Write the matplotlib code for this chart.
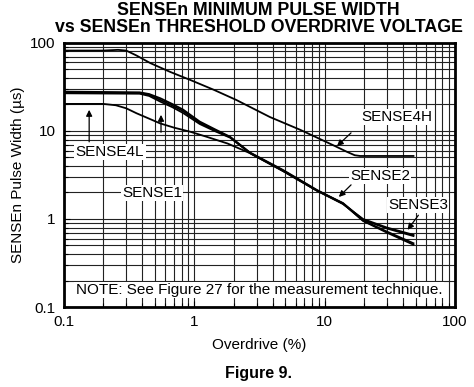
import matplotlib
matplotlib.use("Agg")
import matplotlib.pyplot as plt
from matplotlib.ticker import LogLocator, NullFormatter, FixedLocator, FixedFormatter

plt.rcParams['font.family'] = ['Liberation Sans', 'DejaVu Sans']

# data (overdrive %, pulse width us)
x_4h = [0.1, 0.2, 0.26, 0.3, 0.36, 0.46, 0.65, 0.93, 1.4, 2.1, 3.8, 6.5, 11.6, 14.8, 17, 18.7, 30, 48]
y_4h = [82, 82, 83.5, 82, 72, 59, 47, 38, 29.5, 22.5, 14.4, 10.3, 6.9, 5.8, 5.3, 5.2, 5.2, 5.2]

x_grp = [0.1, 0.38, 0.45, 0.55, 0.68, 0.82, 1.1, 1.45, 1.88, 2.67, 4.8, 8.7, 13.8, 19.7, 30, 48]
y_s1 = [28, 27.5, 26.3, 23.5, 20.2, 17.5, 12.8, 10.4, 8.6, 5.7, 3.6, 2.14, 1.5, 0.95, 0.7, 0.51]
y_s2 = [26.8, 26.5, 25.0, 21.5, 18.6, 16, 12, 9.9, 8.4, 5.6, 3.5, 2.1, 1.48, 1.0, 0.8, 0.66]
y_s3 = [27.5, 27, 25.8, 22.5, 19.4, 16.8, 12.4, 10.1, 8.5, 5.65, 3.55, 2.12, 1.52, 0.98, 0.78, 0.64]

x_4l = [0.1, 0.2, 0.25, 0.3, 0.36, 0.45, 0.546, 0.7, 0.93, 1.24, 1.8, 2.67, 4.8, 8.7, 13.8, 19.7, 30, 48]
y_4l = [20.3, 20.3, 19.6, 18.1, 15.9, 13.8, 12.2, 10.9, 9.8, 8.6, 7.2, 5.6, 3.5, 2.1, 1.5, 0.96, 0.72, 0.53]

xticks = [0.1, 1, 10, 100]
xtick_labels = ['0.1', '1', '10', '100']
yticks = [0.1, 1, 10, 100]
ytick_labels = ['0.1', '1', '10', '100']

fig = plt.figure(figsize=(4.74, 3.87), dpi=100)
ax = fig.add_axes([0.135, 0.2067, 0.825, 0.6823])

for yy in (y_s1, y_s2, y_s3):
    ax.plot(x_grp, yy, color='black', linewidth=1.3, zorder=3)
ax.plot(x_4l, y_4l, color='black', linewidth=1.3, zorder=3)
ax.plot(x_4h, y_4h, color='black', linewidth=1.3, zorder=3)

ax.set_xscale('log')
ax.set_yscale('log')
ax.set_xlim(0.1, 100)
ax.set_ylim(0.1, 100)

ax.xaxis.set_major_locator(FixedLocator(xticks))
ax.xaxis.set_major_formatter(FixedFormatter(xtick_labels))
ax.yaxis.set_major_locator(FixedLocator(yticks))
ax.yaxis.set_major_formatter(FixedFormatter(ytick_labels))
ax.xaxis.set_minor_locator(LogLocator(base=10, subs=range(2, 10)))
ax.yaxis.set_minor_locator(LogLocator(base=10, subs=range(2, 10)))
ax.xaxis.set_minor_formatter(NullFormatter())
ax.yaxis.set_minor_formatter(NullFormatter())
ax.grid(True, which='both', color='#222222', linewidth=0.8, zorder=1)
ax.tick_params(which='both', direction='in', length=3, width=0.8, labelsize=11, pad=6)
ax.tick_params(which='major', length=4)
for sp in ax.spines.values():
    sp.set_linewidth(2)

ax.set_xlabel('Overdrive (%)', fontsize=11, labelpad=6)
ax.set_ylabel('SENSEn Pulse Width (\u00b5s)', fontsize=11, labelpad=4)

box = dict(facecolor='white', edgecolor='none', pad=1)
tkw = dict(fontsize=11, ha='center', va='center', bbox=box, zorder=5)
ax.text(36, 14.4, 'SENSE4H', **tkw)
ax.text(0.225, 5.77, 'SENSE4L', **tkw)
ax.text(0.473, 1.97, 'SENSE1', **tkw)
ax.text(26.6, 3.08, 'SENSE2', **tkw)
ax.text(52, 1.44, 'SENSE3', **tkw)
ax.text(3.13, 0.156, 'NOTE: See Figure 27 for the measurement technique.',
        fontsize=11, ha='center', va='center', bbox=box, zorder=5)

akw = dict(arrowstyle='-|>', color='black', lw=0.9, mutation_scale=9)
ax.annotate('', xy=(0.156, 18.7), xytext=(0.156, 7.0), arrowprops=akw, zorder=6)
ax.annotate('', xy=(0.555, 16.4), xytext=(0.555, 9.0), arrowprops=akw, zorder=6)
ax.annotate('', xy=(12.0, 6.4), xytext=(16.5, 10.0), arrowprops=akw, zorder=6)
ax.annotate('', xy=(12.4, 1.69), xytext=(16.5, 2.57), arrowprops=akw, zorder=6)
ax.annotate('', xy=(42, 0.71), xytext=(53.9, 1.17), arrowprops=akw, zorder=6)

fig.text(0.546, 0.973, 'SENSEn MINIMUM PULSE WIDTH', fontsize=12.8,
         fontweight='bold', ha='center', va='center')
fig.text(0.546, 0.928, 'vs SENSEn THRESHOLD OVERDRIVE VOLTAGE', fontsize=12.8,
         fontweight='bold', ha='center', va='center')
fig.text(0.546, 0.036, 'Figure 9.', fontsize=11.5, fontweight='bold',
         ha='center', va='center')

fig.savefig('out.png', dpi=100)
